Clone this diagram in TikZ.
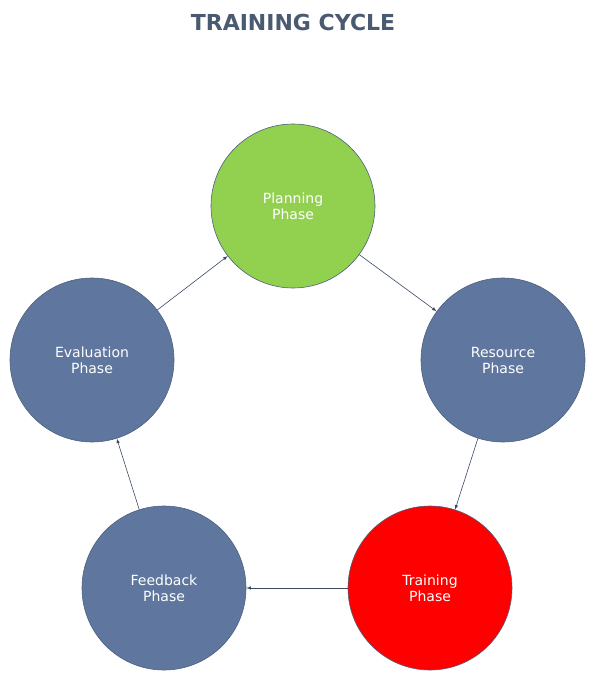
\documentclass[tikz,border=0pt]{standalone}
\usepackage{fontspec}
\setmainfont{DejaVu Sans}
\usetikzlibrary{arrows}
\definecolor{phaseblue}{HTML}{5F779F}
\definecolor{phasegreen}{HTML}{92D050}
\definecolor{titlegray}{HTML}{4A5A70}
\definecolor{linegray}{HTML}{3A4A66}
\tikzset{
  phase/.style  = {circle, minimum size=164pt, draw=phaseblue!80!black, line width=0.6pt,
                   text=white, align=center, font=\fontsize{14}{16}\selectfont},
  flow/.style   = {-latex, draw=linegray, line width=0.6pt}
}
\begin{document}
\begin{tikzpicture}[x=1pt, y=-1pt]

\useasboundingbox (0,0) rectangle (600,688);

\node (title) at (293,22) {\fontsize{22}{24}\selectfont\bfseries\color{titlegray} TRAINING CYCLE};

% phases
\node [phase, fill=phasegreen] (planning)   at (293,206) {Planning\\Phase};
\node [phase, fill=phaseblue]  (resource)   at (503,360) {Resource\\Phase};
\node [phase, fill=red]        (training)   at (430,588) {Training\\Phase};
\node [phase, fill=phaseblue]  (feedback)   at (164,588) {Feedback\\Phase};
\node [phase, fill=phaseblue]  (evaluation) at (92,360)  {Evaluation\\Phase};

% cycle
\draw [flow] (planning)   -- (resource);
\draw [flow] (resource)   -- (training);
\draw [flow] (training)   -- (feedback);
\draw [flow] (feedback)   -- (evaluation);
\draw [flow] (evaluation) -- (planning);

\end{tikzpicture}
\end{document}
